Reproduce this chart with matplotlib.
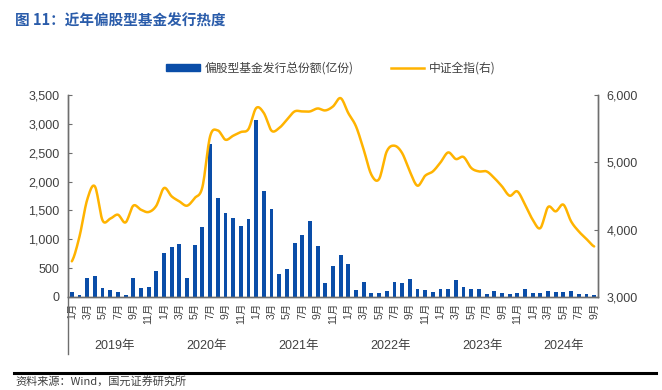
import numpy as np
import matplotlib.pyplot as plt
from matplotlib.lines import Line2D
from matplotlib.patches import Patch
from matplotlib.ticker import FuncFormatter

plt.rcParams['font.family'] = ['Liberation Sans', 'Noto Sans CJK SC', 'DejaVu Sans']

# 偏股型基金发行总份额(亿份), 2019-01 ~ 2024-09
fund_issue = [90, 40, 323, 357, 155, 115, 92, 30, 334, 155, 167, 450,
              755, 870, 922, 334, 899, 1215, 2655, 1711, 1457, 1371, 1238, 1359,
              3064, 1843, 1532, 403, 484, 933, 1077, 1319, 875, 248, 536, 720,
              564, 115, 259, 63, 63, 104, 259, 236, 305, 144, 115, 81,
              132, 132, 294, 167, 144, 132, 52, 98, 63, 52, 63, 132,
              63, 63, 109, 86, 86, 98, 58, 58, 29]

# 中证全指(右)
csi_all = [3530, 3900, 4445, 4643, 4138, 4163, 4222, 4108, 4356, 4296, 4262, 4356,
           4618, 4494, 4420, 4356, 4470, 4633, 5385, 5474, 5336, 5395, 5450, 5495,
           5806, 5732, 5470, 5510, 5633, 5756, 5756, 5756, 5800, 5771, 5830, 5953,
           5730, 5533, 5187, 4816, 4752, 5162, 5247, 5138, 4865, 4653, 4801, 4865,
           4999, 5147, 5049, 5079, 4916, 4865, 4865, 4767, 4643, 4504, 4568, 4371,
           4148, 4024, 4336, 4272, 4371, 4123, 3974, 3861, 3751]

years = ['2019年', '2020年', '2021年', '2022年', '2023年', '2024年']
months_in_year = [12, 12, 12, 12, 12, 9]

bar_color = '#0A4DA8'
line_color = '#FFB300'
text_color = '#404040'
axis_color = '#6E6E6E'


def smooth(y, n=12):
    # Catmull-Rom, like a smoothed line in a spreadsheet chart
    y = np.asarray(y, dtype=float)
    p = np.concatenate([[y[0]], y, [y[-1]]])
    xs, ys = [], []
    for i in range(len(y) - 1):
        p0, p1, p2, p3 = p[i], p[i + 1], p[i + 2], p[i + 3]
        t = np.linspace(0, 1, n, endpoint=False)
        v = 0.5 * (2 * p1 + (-p0 + p2) * t + (2 * p0 - 5 * p1 + 4 * p2 - p3) * t ** 2
                   + (-p0 + 3 * p1 - 3 * p2 + p3) * t ** 3)
        xs.append(i + t)
        ys.append(v)
    xs.append([len(y) - 1])
    ys.append([y[-1]])
    return np.concatenate(xs), np.concatenate(ys)


fig = plt.figure(figsize=(6.62, 3.90), dpi=100)
ax = fig.add_axes([0.1027, 0.2385, 0.8006, 0.5179])
ax2 = ax.twinx()

x = np.arange(len(fund_issue))
ax.bar(x, fund_issue, width=0.5, color=bar_color, zorder=2)
sx, sy = smooth(csi_all)
ax2.plot(sx, sy, color=line_color, lw=1.8, solid_capstyle='round')

ax.set_xlim(-0.5, len(fund_issue) - 0.5)
ax.set_ylim(0, 3500)
ax.set_yticks(np.arange(0, 3501, 500))
ax.yaxis.set_major_formatter(FuncFormatter(lambda v, p: f'{int(v):,}'))
ax2.set_ylim(3000, 6000)
ax2.set_yticks([3000, 4000, 5000, 6000])
ax2.yaxis.set_major_formatter(FuncFormatter(lambda v, p: f'{int(v):,}'))

tick_pos, tick_lab = [], []
start = 0
for n in months_in_year:
    for m in range(0, n, 2):
        tick_pos.append(start + m)
        tick_lab.append(f'{m + 1}月')
    start += n
ax.set_xticks(tick_pos)
ax.set_xticklabels(tick_lab, rotation=90, fontsize=7.5, color=text_color,
                   family=['Liberation Sans', 'Noto Sans CJK SC'])
ax.tick_params(axis='x', length=0, pad=4)

for a in (ax, ax2):
    a.spines['top'].set_visible(False)
    for s in ('left', 'right', 'bottom'):
        a.spines[s].set_color(axis_color)
        a.spines[s].set_linewidth(1.0)
ax.tick_params(axis='y', direction='in', length=3, color=axis_color,
               labelsize=9, labelcolor=text_color, pad=6)
ax2.tick_params(axis='y', direction='in', length=3, color=axis_color,
                labelsize=9, labelcolor=text_color, pad=6)

# year labels under the month labels
start = 0
for yr, n in zip(years, months_in_year):
    ax.text(start + (n - 1) / 2, -0.245, yr, transform=ax.get_xaxis_transform(),
            ha='center', va='center', fontsize=9, color=text_color,
            family=['Liberation Sans', 'Noto Sans CJK SC'])
    start += n
ax.add_line(Line2D([0, 0], [0, -0.28], transform=ax.transAxes, color=axis_color,
                   lw=1.0, clip_on=False))

handles = [Patch(facecolor=bar_color, edgecolor=bar_color),
           Line2D([0], [0], color=line_color, lw=1.8)]
fig.legend(handles, ['偏股型基金发行总份额(亿份)', '中证全指(右)'],
           loc='center', bbox_to_anchor=(0.5, 0.826), ncol=2, frameon=False,
           prop={'family': 'Noto Sans CJK SC', 'size': 8.5}, handlelength=2.8,
           handleheight=0.5, handletextpad=0.4, columnspacing=3.2,
           labelcolor=text_color)

fig.text(0.023, 0.948, '图 11：近年偏股型基金发行热度', fontsize=10.5, fontweight='bold',
         color='#2A5CAA', family=['Noto Sans CJK SC'], va='center')
fig.add_artist(Line2D([0.021, 0.991], [0.0436, 0.0436], color='black', lw=2.2))
fig.text(0.023, 0.022, '资料来源：Wind，国元证券研究所', fontsize=8, color=text_color,
         family=['Noto Sans CJK SC', 'Liberation Sans'], va='center')

fig.savefig('out.png', dpi=100)
